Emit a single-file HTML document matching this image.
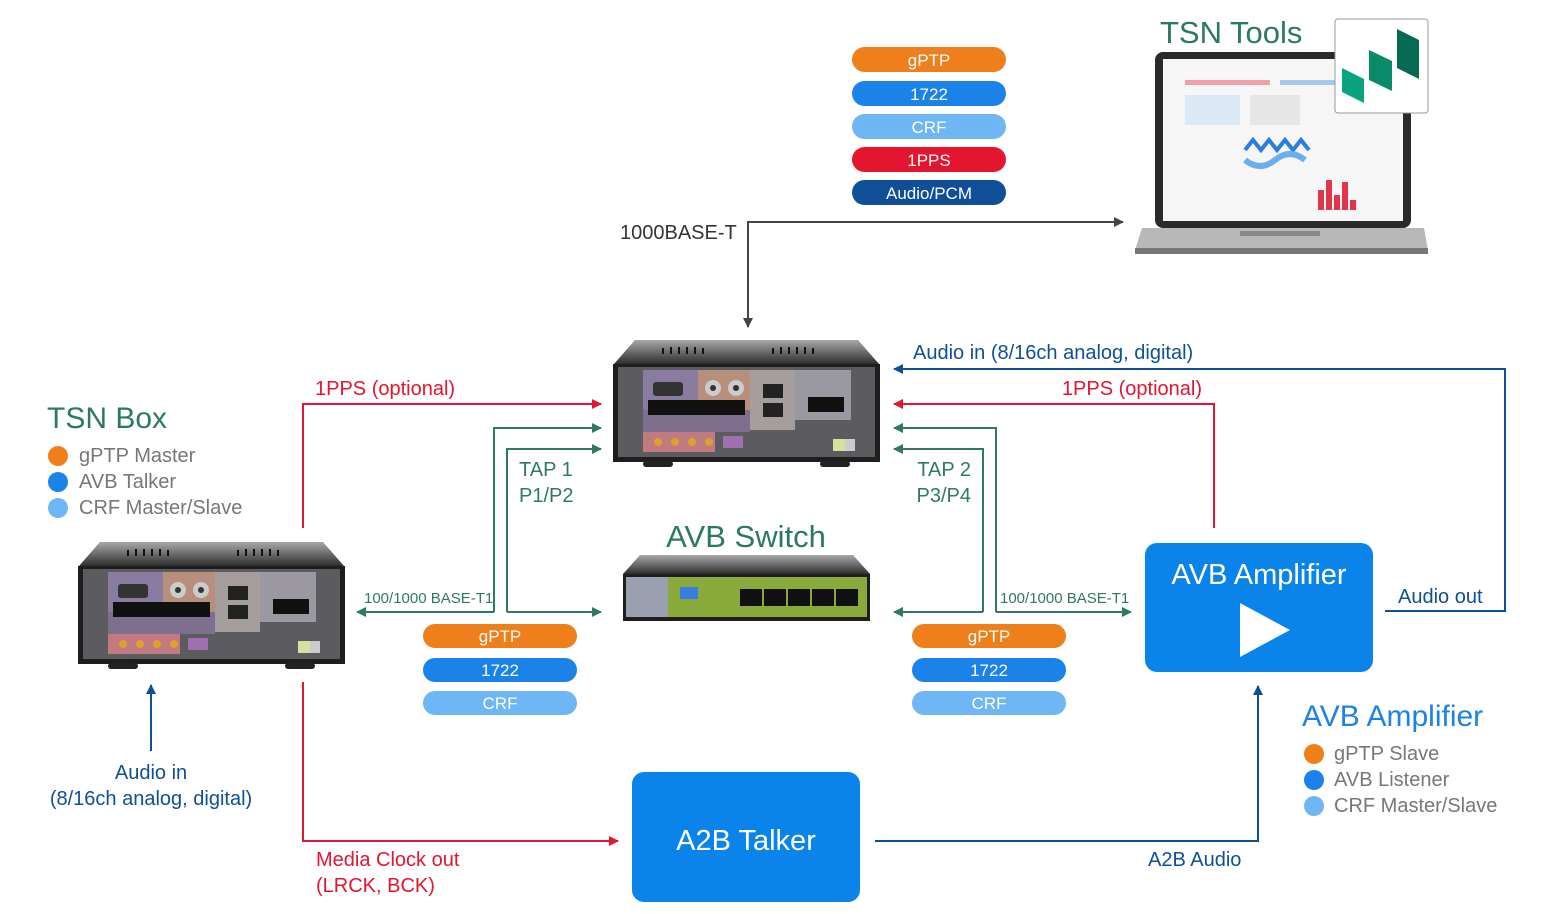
<!DOCTYPE html>
<html><head><meta charset="utf-8"><style>
html,body{margin:0;padding:0;background:#fff;}
svg{display:block;font-family:"Liberation Sans","DejaVu Sans",sans-serif;}
</style></head><body>
<svg width="1553" height="914" viewBox="0 0 1553 914" xmlns="http://www.w3.org/2000/svg">
<defs>
<linearGradient id="top" x1="0" y1="0" x2="0" y2="1"><stop offset="0" stop-color="#a8a8a8"/><stop offset="1" stop-color="#2e2e2e"/></linearGradient>
<marker id="ag" viewBox="0 0 10 10" refX="9" refY="5" markerWidth="5" markerHeight="5" orient="auto"><path d="M0,0L10,5L0,10z" fill="#2f7a5f"/></marker>
<marker id="ar" viewBox="0 0 10 10" refX="9" refY="5" markerWidth="5" markerHeight="5" orient="auto"><path d="M0,0L10,5L0,10z" fill="#e3152f"/></marker>
<marker id="ab" viewBox="0 0 10 10" refX="9" refY="5" markerWidth="5" markerHeight="5" orient="auto"><path d="M0,0L10,5L0,10z" fill="#0f4f97"/></marker>
<marker id="ak" viewBox="0 0 10 10" refX="9" refY="5" markerWidth="5" markerHeight="5" orient="auto"><path d="M0,0L10,5L0,10z" fill="#444"/></marker>
<g id="dev">
 <polygon points="22,0 245,0 266,24 1,24" fill="url(#top)"/>
 <g stroke="#111" stroke-width="2"><path d="M50,8v6M58,7v7M66,7v7M74,7v7M82,7v7M90,8v6M160,8v6M168,7v7M176,7v7M184,7v7M192,7v7M200,8v6"/></g>
 <rect x="0" y="24" width="267" height="98" fill="#1e1e1e"/>
 <rect x="5" y="27" width="257" height="90" fill="#5c5c60"/>
 <rect x="30" y="30" width="55" height="40" fill="#8a7ba0"/>
 <rect x="85" y="30" width="52" height="40" fill="#b88f7c"/>
 <rect x="137" y="30" width="45" height="60" fill="#a59e9c"/>
 <rect x="182" y="30" width="56" height="50" fill="#9c98a2"/>
 <rect x="30" y="70" width="107" height="22" fill="#7f6f8f"/>
 <rect x="30" y="92" width="72" height="20" fill="#c07a80"/>
 <rect x="40" y="42" width="30" height="14" rx="3" fill="#333"/>
 <circle cx="100" cy="48" r="8" fill="#ccc"/><circle cx="123" cy="48" r="8" fill="#ccc"/>
 <circle cx="100" cy="48" r="3" fill="#333"/><circle cx="123" cy="48" r="3" fill="#333"/>
 <rect x="35" y="60" width="97" height="15" fill="#111"/>
 <rect x="150" y="44" width="20" height="14" fill="#222"/><rect x="150" y="63" width="20" height="14" fill="#222"/>
 <rect x="195" y="57" width="36" height="15" fill="#111"/>
 <g fill="#e0a030"><circle cx="45" cy="102" r="4"/><circle cx="62" cy="102" r="4"/><circle cx="79" cy="102" r="4"/><circle cx="96" cy="102" r="4"/></g>
 <rect x="110" y="96" width="20" height="12" fill="#a070b0"/>
 <rect x="220" y="99" width="12" height="12" fill="#d8e0a0"/><rect x="232" y="99" width="10" height="12" fill="#ccc"/>
 <rect x="30" y="121" width="30" height="6" rx="3" fill="#222"/><rect x="207" y="121" width="30" height="6" rx="3" fill="#222"/>
</g>
</defs>

<!-- top pills -->
<g font-size="17" fill="#fff" text-anchor="middle">
<rect x="852" y="47" width="154" height="25" rx="12.5" fill="#ee7f1a"/><text x="929" y="66">gPTP</text>
<rect x="852" y="81" width="154" height="25" rx="12.5" fill="#1a82e8"/><text x="929" y="100">1722</text>
<rect x="852" y="114" width="154" height="25" rx="12.5" fill="#6fb6f5"/><text x="929" y="133">CRF</text>
<rect x="852" y="147" width="154" height="25" rx="12.5" fill="#e3152f"/><text x="929" y="166">1PPS</text>
<rect x="852" y="180" width="154" height="25" rx="12.5" fill="#0f4f97"/><text x="929" y="199">Audio/PCM</text>
<rect x="423" y="624" width="154" height="24" rx="12" fill="#ee7f1a"/><text x="500" y="642">gPTP</text>
<rect x="423" y="658" width="154" height="24" rx="12" fill="#1a82e8"/><text x="500" y="676">1722</text>
<rect x="423" y="691" width="154" height="24" rx="12" fill="#6fb6f5"/><text x="500" y="709">CRF</text>
<rect x="912" y="624" width="154" height="24" rx="12" fill="#ee7f1a"/><text x="989" y="642">gPTP</text>
<rect x="912" y="658" width="154" height="24" rx="12" fill="#1a82e8"/><text x="989" y="676">1722</text>
<rect x="912" y="691" width="154" height="24" rx="12" fill="#6fb6f5"/><text x="989" y="709">CRF</text>
</g>

<!-- laptop -->
<rect x="1155" y="52" width="256" height="176" rx="8" fill="#2a2a2a"/>
<rect x="1163" y="59" width="240" height="162" fill="#f6f6f6"/>
<rect x="1185" y="80" width="85" height="5" fill="#f0a0a8"/><rect x="1280" y="80" width="60" height="5" fill="#a8c8f0"/>
<rect x="1185" y="95" width="55" height="30" fill="#dbe8f6"/>
<rect x="1250" y="95" width="50" height="30" fill="#e6e6e6"/>
<path d="M1245,150 l8,-10 8,10 8,-10 8,10 8,-10 8,10 8,-10 8,10" stroke="#2a7ee0" stroke-width="4" fill="none"/>
<path d="M1245,160 q15,12 30,0 q15,-12 30,0" stroke="#6aaef0" stroke-width="6" fill="none"/>
<g fill="#e3354a"><rect x="1318" y="190" width="6" height="20"/><rect x="1326" y="180" width="6" height="30"/><rect x="1334" y="195" width="6" height="15"/><rect x="1342" y="182" width="6" height="28"/><rect x="1350" y="200" width="6" height="10"/></g>
<polygon points="1142,228 1424,228 1428,250 1135,250" fill="#b8b8b8"/>
<rect x="1135" y="248" width="293" height="6" fill="#777"/>
<rect x="1240" y="231" width="80" height="5" fill="#888"/>
<rect x="1335" y="19" width="93" height="94" rx="3" fill="#fff" stroke="#999"/>
<polygon points="1342,68 1364,79 1364,103 1342,92" fill="#0aa37f"/>
<polygon points="1369,50 1392,61 1392,91 1369,80" fill="#0a8a68"/>
<polygon points="1397,29 1419,40 1419,79 1397,68" fill="#066a52"/>
<text x="1160" y="43" font-size="31" fill="#2a7a5e">TSN Tools</text>

<!-- gray 1000BASE-T -->
<path d="M748,327V222H1123" stroke="#444" stroke-width="2" fill="none" marker-end="url(#ak)"/>
<path d="M748,250V327" stroke="#444" stroke-width="2" fill="none" marker-end="url(#ak)"/>
<text x="620" y="239" font-size="20" fill="#333">1000BASE-T</text>

<!-- devices -->
<use href="#dev" x="613" y="340"/>
<use href="#dev" x="78" y="542"/>

<!-- AVB switch -->
<polygon points="640,555 853,555 870,574 623,574" fill="url(#top)"/>
<rect x="623" y="574" width="247" height="47" fill="#1e1e1e"/>
<rect x="626" y="577" width="42" height="40" fill="#9aa0b0"/>
<rect x="668" y="577" width="199" height="40" fill="#8aab3c"/>
<rect x="680" y="587" width="18" height="12" fill="#3a7de0"/>
<g fill="#111"><rect x="740" y="589" width="22" height="17"/><rect x="764" y="589" width="22" height="17"/><rect x="788" y="589" width="22" height="17"/><rect x="812" y="589" width="22" height="17"/><rect x="836" y="589" width="22" height="17"/></g>
<text x="746" y="547" font-size="31" fill="#2a7a5e" text-anchor="middle">AVB Switch</text>

<!-- TSN box legend -->
<text x="47" y="428" font-size="30" fill="#2a7a5e">TSN Box</text>
<g font-size="20" fill="#777">
<circle cx="58" cy="456" r="10" fill="#ee7f1a"/><text x="79" y="462">gPTP Master</text>
<circle cx="58" cy="482" r="10" fill="#1a82e8"/><text x="79" y="488">AVB Talker</text>
<circle cx="58" cy="508" r="10" fill="#6fb6f5"/><text x="79" y="514">CRF Master/Slave</text>
</g>

<!-- red lines -->
<path d="M303,528V404H601" stroke="#e3152f" stroke-width="2" fill="none" marker-end="url(#ar)"/>
<text x="315" y="395" font-size="20" fill="#e3152f">1PPS (optional)</text>
<path d="M1214,528V404H894" stroke="#e3152f" stroke-width="2" fill="none" marker-end="url(#ar)"/>
<text x="1202" y="395" font-size="20" fill="#e3152f" text-anchor="end">1PPS (optional)</text>
<path d="M303,682V841H618" stroke="#e3152f" stroke-width="2" fill="none" marker-end="url(#ar)"/>
<text x="316" y="866" font-size="20" fill="#e3152f">Media Clock out</text>
<text x="316" y="892" font-size="20" fill="#e3152f">(LRCK, BCK)</text>

<!-- green lines -->
<g stroke="#2f7a5f" stroke-width="2" fill="none">
<path d="M494,612V428H601" marker-end="url(#ag)"/>
<path d="M494,612H357" marker-end="url(#ag)"/>
<path d="M507,612V449H601" marker-end="url(#ag)"/>
<path d="M507,612H601" marker-end="url(#ag)"/>
<path d="M996,612V428H894" marker-end="url(#ag)"/>
<path d="M996,612H1131" marker-end="url(#ag)"/>
<path d="M983,612V449H894" marker-end="url(#ag)"/>
<path d="M983,612H894" marker-end="url(#ag)"/>
</g>
<g fill="#2f7a5f">
<text x="364" y="603" font-size="15">100/1000 BASE-T1</text>
<text x="1000" y="603" font-size="15">100/1000 BASE-T1</text>
<text x="519" y="476" font-size="20">TAP 1</text><text x="519" y="502" font-size="20">P1/P2</text>
<text x="971" y="476" font-size="20" text-anchor="end">TAP 2</text><text x="971" y="502" font-size="20" text-anchor="end">P3/P4</text>
</g>

<!-- blue lines -->
<g stroke="#0f4f97" stroke-width="2" fill="none">
<path d="M1385,611H1505V369H894" marker-end="url(#ab)"/>
<path d="M151,751V685" marker-end="url(#ab)"/>
<path d="M875,841H1258V686" marker-end="url(#ab)"/>
</g>
<g fill="#0f4f97" font-size="20">
<text x="913" y="359">Audio in (8/16ch analog, digital)</text>
<text x="1398" y="603">Audio out</text>
<text x="151" y="779" text-anchor="middle">Audio in</text>
<text x="151" y="805" text-anchor="middle">(8/16ch analog, digital)</text>
<text x="1148" y="866">A2B Audio</text>
</g>

<!-- AVB Amplifier box -->
<rect x="1145" y="543" width="228" height="129" rx="12" fill="#0a84ea"/>
<text x="1259" y="584" font-size="29" fill="#fff" text-anchor="middle">AVB Amplifier</text>
<polygon points="1240,603 1290,630 1240,657" fill="#fff"/>

<!-- A2B Talker -->
<rect x="632" y="772" width="228" height="130" rx="12" fill="#0a84ea"/>
<text x="746" y="850" font-size="29" fill="#fff" text-anchor="middle">A2B Talker</text>

<!-- AVB amplifier legend -->
<text x="1302" y="726" font-size="30" fill="#1a82e8">AVB Amplifier</text>
<g font-size="20" fill="#777">
<circle cx="1314" cy="754" r="10" fill="#ee7f1a"/><text x="1334" y="760">gPTP Slave</text>
<circle cx="1314" cy="780" r="10" fill="#1a82e8"/><text x="1334" y="786">AVB Listener</text>
<circle cx="1314" cy="806" r="10" fill="#6fb6f5"/><text x="1334" y="812">CRF Master/Slave</text>
</g>
</svg>
</body></html>
